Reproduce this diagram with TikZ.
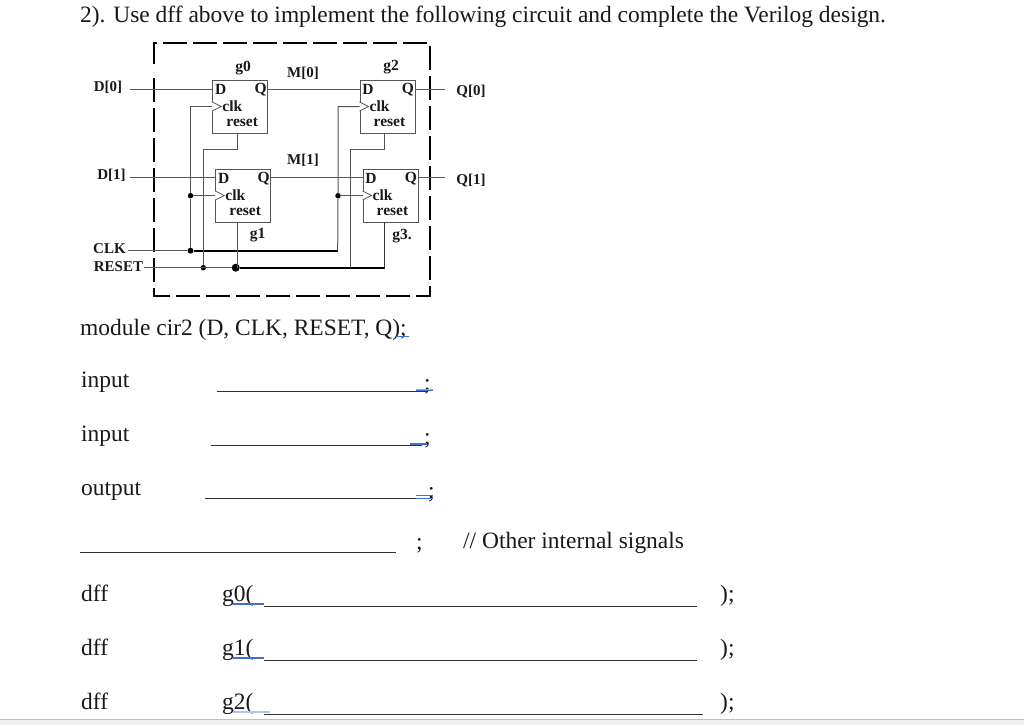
\documentclass[tikz,border=0pt]{standalone}
\usepackage{fontspec}
\setmainfont{Liberation Serif}
\usetikzlibrary{calc}
\definecolor{wire}{HTML}{555555}
\definecolor{ms}{HTML}{3F6FD0}
\tikzset{
 x=1pt,y=-1pt,
 ffbox/.style={draw=wire,line width=1pt,minimum width=55pt,minimum height=53pt,inner sep=0pt,fill=white},
 wire/.style={draw=wire,line width=1pt},
 thin wire/.style={draw=black!80,line width=1pt},
 bus/.style={draw=black,line width=2.2pt},
 frame/.style={draw=black,line width=2.2pt},
 lab/.style={font=\fontsize{15}{16}\selectfont\bfseries,inner sep=0pt,text=black!90},
 pin/.style={font=\fontsize{15.5}{16}\selectfont\bfseries,inner sep=0pt,text=black!90},
 code/.style={font=\fontsize{23.45}{26}\selectfont,inner sep=0pt,anchor=base west,text=black!90},
 blank/.style={draw=black!80,line width=1pt},
 squig/.style={draw=ms,line width=0.9pt},
 dot/.style={fill=black,circle,inner sep=0pt,minimum size=5.5pt},
 bigdot/.style={fill=black,circle,inner sep=0pt,minimum size=8pt},
 clkmark/.style={draw=wire,line width=0.8pt,fill=white},
}
\begin{document}
\begin{tikzpicture}
\useasboundingbox (0,0) rectangle (1024,725);
\fill[white] (0,0) rectangle (1024,725);
\fill[black!6] (0,719) rectangle (1024,725);
\draw[black!25,line width=0.8pt] (0,719) -- (1024,719);

\node[code] (title) at (80,23) {2). Use dff above to implement the following circuit and complete the Verilog design.};

% dashed frame
\coordinate (fa) at (154,43); \coordinate (fb) at (430,43);
\coordinate (fc) at (430,296); \coordinate (fd) at (154,296);
\draw[frame,dash pattern=on 24pt off 6pt] (154,64) -- (fa) -- (fb) -- (fc) -- (fd) -- (154,72);

% flip-flops
\node[ffbox] (g0) at (240.2,106.5) {};
\node[ffbox] (g2) at (387.5,106.5) {};
\node[ffbox] (g1) at (243.2,195.5) {};
\node[ffbox] (g3) at (390.5,195.5) {};

\foreach \n in {g0,g2,g1,g3}{
 \node[pin] (\n d) at ($(\n.west)+(8.5,-17)$) {D};
 \node[pin] (\n q) at ($(\n.east)+(-7.5,-17)$) {Q};
 \node[pin,anchor=west] (\n c) at ($(\n.west)+(10,0)$) {clk};
 \node[pin] (\n r) at ($(\n.center)+(2,16)$) {reset};
 \draw[clkmark] ($(\n.west)+(0,-4.5)$) -- ($(\n.west)+(9,0)$) -- ($(\n.west)+(0,4.5)$);
}
\node[pin] (tg0) at (243,68) {g0};
\node[pin] (tg2) at (391,67) {g2};
\node[pin] (tg1) at (257.5,235) {g1};
\node[pin] (tg3) at (402,236) {g3.};

\node[lab] (m0) at (303,73) {M[0]};
\node[lab] (m1) at (303,160) {M[1]};
\node[lab] (d0) at (108,87.5) {D[0]};
\node[lab] (d1) at (111.5,175) {D[1]};
\node[lab] (clk) at (109.5,249) {CLK};
\node[lab] (rst) at (118.5,267) {RESET};
\node[lab] (q0) at (471,92) {Q[0]};
\node[lab] (q1) at (471,181) {Q[1]};

% free ends and junctions
\coordinate (d0e) at (130,89.3);
\coordinate (d1e) at (130,177.7);
\coordinate (q0e) at (445,89.3);
\coordinate (q1e) at (445,177.7);
\coordinate (clke) at (128,250.7);
\coordinate (rste) at (144,267.7);
\node[dot] (jc1) at (190.5,195.7) {};
\node[dot] (jc2) at (338,195.7) {};
\node[dot,minimum size=6pt] (jc0) at (190.5,250.7) {};
\node[dot] (jr0) at (203.3,267.7) {};
\node[bigdot] (jr1) at (235.7,267.7) {};
\coordinate (ce) at (337.7,250.7);
\coordinate (re) at (384.7,267.7);

% data
\draw[wire] (d0e) -- (g0.west |- d0e);
\draw[wire] (g0.east |- d0e) -- (g2.west |- d0e);
\draw[wire] (g2.east |- q0e) -- (q0e);
\draw[wire] (d1e) -- (g1.west |- d1e);
\draw[wire] (g1.east |- d1e) -- (g3.west |- d1e);
\draw[wire] (g3.east |- q1e) -- (q1e);

% clock
\draw[wire] (clke) -- (jc0);
\draw[bus] (jc0) -- (ce);
\draw[wire] (jc0) -- (jc1) -- (190.5,106.7) -- ($(g0.west)+(0,0.2)$);
\draw[wire] (jc1) -- (g1.west |- jc1);
\draw[wire] (ce) -- (jc2) -- (338,106.7) -- ($(g2.west)+(0,0.2)$);
\draw[wire] (jc2) -- (g3.west |- jc2);

% reset
\draw[wire] (rste) -- (jr1);
\draw[bus] (jr1) -- (re);
\draw[wire] (jr0) -- (203.3,149) -- (237,149) -- (237,133);
\draw[wire] (237,222) -- (237,267.7);
\draw[wire] (350.7,267.7) -- (350.7,149) -- (384.7,149) -- (384.7,133);
\draw[thin wire] (384.7,222) -- (re);

% verilog text
\node[code] (mod) at (80,335) {module cir2 (D, CLK, RESET, Q);};
\draw[squig] (395,336.5) -- (409,336.5);

\node[code] (i1) at (81,387) {input};
\draw[blank] (217,391.5) -- (428,391.5);
\node[code] (i1s) at (424,390) {;};
\draw[squig,ms!55] (416,389) -- (433,389);
\draw[squig] (416,390.5) -- (433,390.5);

\node[code] (i2) at (81,441) {input};
\draw[blank] (211,445.5) -- (422,445.5);
\node[code] (i2s) at (424,444) {;};
\draw[squig] (410,443) -- (427,443);
\draw[squig] (410,444.5) -- (427,444.5);

\node[code] (o1) at (81,495) {output};
\draw[blank] (205,498.5) -- (428,498.5);
\node[code] (o1s) at (428,498) {;};
\draw[squig] (416,495) -- (433,495);
\draw[squig] (416,498) -- (433,498);

\draw[blank] (80,552.5) -- (396,552.5);
\node[code] (s1) at (416,549) {;};
\node[code] (other) at (463,548) {// Other internal signals};

\foreach \y/\g/\e/\b/\sc in {601/g0/697/264/ms,655/g1/697/264/ms,709/g2/703/270/ms!40}{
 \node[code] (dff\g) at (81,\y) {dff};
 \node[code] (inst\g) at (222,\y) {\g(};
 \draw[blank] (264,\y+5.5) -- (\e,\y+5.5);
 \draw[squig,\sc] (233,\y+2) -- (\b,\y+2);
 \draw[squig,\sc] (233,\y+3.5) -- (\b,\y+3.5);
 \node[code] (end\g) at (720,\y) {);};
}
\end{tikzpicture}
\end{document}
